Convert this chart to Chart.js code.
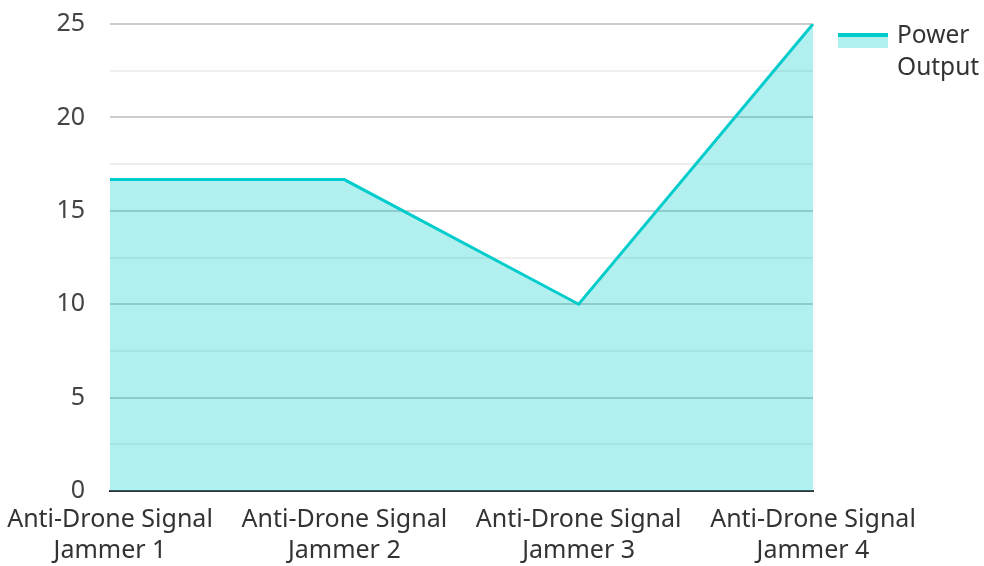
<!DOCTYPE html>
<html>
<head>
<meta charset="utf-8">
<script src="https://cdn.jsdelivr.net/npm/chart.js@4.4.0/dist/chart.umd.min.js"></script>
<style>
  html, body { margin: 0; padding: 0; background: #ffffff; }
  #wrap { width: 984px; height: 566px; position: relative; }
</style>
</head>
<body>
<div id="wrap"><canvas id="grafico"></canvas></div>
<script>
// dados do gráfico
var categorias = [
  ["Anti-Drone Signal", "Jammer 1"],
  ["Anti-Drone Signal", "Jammer 2"],
  ["Anti-Drone Signal", "Jammer 3"],
  ["Anti-Drone Signal", "Jammer 4"]
];
var potencia = [16.67, 16.67, 10, 25];
var rotulo_serie = ["Power", "Output"];
var y_min = 0;
var y_max = 25;
var y_passo = 5;

var cor_linha = "rgb(0, 204, 204)";
var cor_area = "rgba(0, 204, 204, 0.3)";

// legenda desenhada à mão (texto em duas linhas)
var legendaPlugin = {
  id: "legendaDireita",
  afterDraw: function (chart) {
    var ctx = chart.ctx;
    ctx.save();
    ctx.fillStyle = cor_area;
    ctx.fillRect(838, 35, 50, 13);
    ctx.fillStyle = cor_linha;
    ctx.fillRect(838, 33, 50, 4);
    ctx.fillStyle = "#333333";
    ctx.font = "24.5px 'Noto Sans'";
    ctx.textBaseline = "middle";
    ctx.textAlign = "left";
    ctx.fillText(rotulo_serie[0], 897, 36);
    ctx.fillText(rotulo_serie[1], 897, 68);
    ctx.restore();
  }
};

var grafico = new Chart(document.getElementById("grafico"), {
  type: "line",
  data: {
    labels: categorias,
    datasets: [{
      label: rotulo_serie.join(" "),
      data: potencia,
      borderColor: cor_linha,
      backgroundColor: cor_area,
      borderWidth: 3,
      fill: "origin",
      tension: 0,
      pointRadius: 0,
      pointHoverRadius: 0
    }]
  },
  options: {
    responsive: true,
    maintainAspectRatio: false,
    animation: false,
    layout: {
      padding: { top: 24, right: 171, bottom: 0, left: 0 }
    },
    plugins: {
      legend: { display: false },
      tooltip: { enabled: false }
    },
    scales: {
      x: {
        offset: false,
        grid: { display: false, drawTicks: true, tickLength: 8 },
        border: { display: true, color: "#333333", width: 2 },
        ticks: {
          color: "#333333",
          font: { family: "'Noto Sans'", size: 25, lineHeight: 1.25 },
          padding: 5,
          maxRotation: 0,
          autoSkip: false
        },
        afterFit: function (escala) {
          escala.height = 75;
        }
      },
      y: {
        min: y_min,
        max: y_max,
        border: { display: false },
        grid: {
          drawTicks: true,
          tickLength: 20,
          tickColor: "rgba(0,0,0,0)",
          lineWidth: 2,
          color: function (c) {
            if (c.tick && c.tick.value % y_passo === 0) return "#cccccc";
            return "#eeeeee";
          }
        },
        ticks: {
          stepSize: y_passo / 2,
          padding: 5,
          color: "#444444",
          font: { family: "'Noto Sans'", size: 25 },
          callback: function (v) {
            return v % y_passo === 0 ? v : "";
          }
        },
        afterFit: function (escala) {
          escala.width = 110;
        }
      }
    }
  },
  plugins: [legendaPlugin]
});
</script>
</body>
</html>
